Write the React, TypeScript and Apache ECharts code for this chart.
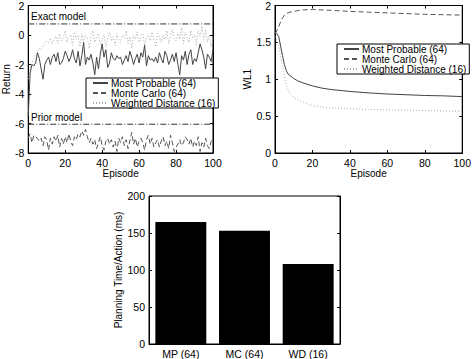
import React, { useEffect, useRef } from "react";
import * as echarts from "echarts";

// ---------- Data ----------
const seriesNames = ["Most Probable (64)", "Monte Carlo (64)", "Weighted Distance (16)"];

const returnMP = [
  -5.5, -2.6, -2.0, -2.1, -1.9, -1.2, -1.6, -2.3, -3.0, -2.0,
  -1.7, -1.5, -2.0, -1.5, -1.3, -1.8, -1.2, -2.0, -1.9, -1.6,
  -1.1, -1.4, -1.8, -1.5, -1.0, -1.6, -1.9, -1.1, -2.1, -1.4,
  -0.5, -2.0, -1.5, -1.7, -1.3, -1.9, -2.7, -1.5, -2.3, -1.3,
  -0.6, -1.5, -1.0, -2.2, -1.9, -1.2, -1.6, -1.7, -1.4, -1.6,
  -1.5, -2.0, -1.7, -1.4, -1.8, -1.1, -1.5, -2.0, -1.6, -1.3,
  -1.9, -1.2, -1.5, -0.7, -2.1, -1.4, -1.7, -1.6, -1.8, -1.5,
  -1.9, -1.2, -1.6, -1.9, -1.1, -1.4, -2.0, -1.7, -1.3, -1.8,
  -1.2, -2.0, -2.7, -1.4, -1.7, -1.1, -2.0, -1.3, -1.0, -2.0,
  -1.6, -1.8, -1.2, -0.6, -1.0, -1.5, -2.3, -1.3, -1.5, -1.8, -1.0,
];
const returnMC = [
  -7.0, -6.7, -7.3, -6.8, -6.9, -7.0, -7.2, -7.0, -7.5, -6.9,
  -7.1, -7.8, -7.0, -7.4, -6.9, -7.2, -6.8, -7.6, -7.0, -7.4,
  -6.9, -7.3, -6.7, -7.2, -7.5, -6.9, -7.1, -6.7, -6.9, -6.5,
  -6.8, -6.4, -6.9, -7.3, -7.0, -7.4, -7.1, -7.7, -7.3, -6.9,
  -7.5, -7.8, -7.2, -7.0, -7.4, -7.1, -7.6, -7.2, -7.9, -7.0,
  -7.3, -6.9, -7.5, -7.1, -7.7, -7.2, -6.6, -7.4, -7.0, -7.6,
  -7.2, -7.0, -7.3, -7.8, -7.1, -6.8, -7.4, -7.0, -7.6, -7.3,
  -7.1, -7.6, -7.2, -6.9, -7.5, -7.2, -7.7, -6.8, -7.3, -7.9,
  -7.6, -7.4, -7.1, -7.5, -7.3, -6.9, -7.1, -7.4, -7.0, -7.6,
  -7.2, -7.5, -6.9, -7.9, -7.3, -7.6, -7.0, -7.5, -7.7, -7.2, -7.0,
];
const returnWD = [
  -3.0, -2.2, -1.9, -1.6, -1.3, -1.1, -0.9, -1.0, -0.7, -0.6,
  -0.4, -0.5, -0.2, -0.6, -0.3, -0.1, -0.6, 0.1, -0.4, -0.2,
  0.3, -0.5, -0.1, 0.0, -0.7, 0.2, -0.3, 0.0, -0.8, 0.1,
  -0.4, 0.0, -0.2, -0.9, -0.1, 0.3, -0.5, -0.2, 0.1, -0.6,
  -0.3, 0.0, -0.8, -0.2, 0.2, -0.4, -0.1, -0.7, 0.1, -0.3,
  -0.5, 0.0, -0.2, 0.3, -0.6, -0.1, -0.9, 0.0, -0.3, 0.2,
  -0.5, -0.1, 0.1, -0.7, -0.2, 0.0, -0.4, 0.2, -0.3, -0.8,
  0.1, -0.2, -0.5, 0.0, -0.3, 0.3, -0.6, -0.1, 0.4, -0.2,
  -0.4, 0.1, -0.3, 0.5, -0.6, 0.2, -0.1, -0.5, 0.3, -0.2,
  0.0, -0.7, 0.3, -0.1, 0.6, -0.3, 0.4, -0.5, 0.0, -0.8, -0.2,
];
const exactModel = 0.75;
const priorModel = -6.05;

const wl1Episodes = [0, 1, 2, 3, 4, 5, 6, 7, 8, 10, 12, 15, 20, 25, 30, 40, 50, 60, 70, 80, 90, 100];
const wl1MP = [1.64, 1.62, 1.58, 1.45, 1.32, 1.2, 1.12, 1.07, 1.05, 1.01, 0.98, 0.95, 0.91, 0.88, 0.86, 0.835, 0.815, 0.8, 0.79, 0.78, 0.775, 0.765];
const wl1MC = [1.62, 1.66, 1.71, 1.78, 1.83, 1.87, 1.89, 1.9, 1.91, 1.92, 1.93, 1.94, 1.945, 1.94, 1.935, 1.92, 1.91, 1.9, 1.89, 1.88, 1.875, 1.87];
const wl1WD = [1.58, 1.52, 1.47, 1.3, 1.16, 1.04, 0.93, 0.86, 0.81, 0.76, 0.72, 0.69, 0.64, 0.625, 0.61, 0.6, 0.59, 0.585, 0.58, 0.575, 0.57, 0.565];

const planCategories = ["MP (64)", "MC (64)", "WD (16)"];
const planValues = [165, 153, 108];

// ---------- Styles ----------
const FONT = "Liberation Sans";
const lineStyles = [
  { color: "#444", type: "solid", width: 1 },
  { color: "#555", type: [5, 3], width: 1 },
  { color: "#aaa", type: [1, 2], width: 1 },
];

const pairs = (xs: number[], ys: number[]) => ys.map((y, i) => [xs[i], y]);
const episodes = returnMP.map((_, i) => i);

function valueAxis(gridIndex: number, min: number, max: number, interval: number, extra: any = {}) {
  return {
    type: "value",
    gridIndex,
    min,
    max,
    interval,
    axisLine: { show: true, onZero: false, lineStyle: { color: "#000", width: 1 } },
    axisTick: { show: true, inside: true, length: 3, lineStyle: { color: "#000" } },
    splitLine: { show: false },
    axisLabel: { color: "#000", fontFamily: FONT, fontSize: 10.5, margin: 4 },
    nameTextStyle: { color: "#000", fontFamily: FONT, fontSize: 10 },
    ...extra,
  };
}
function mirrorAxis(gridIndex: number, min: number, max: number, interval: number, position: string) {
  return valueAxis(gridIndex, min, max, interval, { position, axisLabel: { show: false } });
}

export default function App() {
  const ref = useRef<HTMLDivElement>(null);
  useEffect(() => {
    const chart = echarts.init(ref.current!, undefined, { renderer: "svg" });
    const legendBase = {
      orient: "vertical",
      backgroundColor: "#fff",
      borderColor: "#000",
      borderWidth: 1,
      borderRadius: 0,
      padding: [0, 3, 0, 6],
      itemWidth: 15,
      itemHeight: 12,
      itemGap: 0,
      itemStyle: { color: "rgba(0,0,0,0)", borderWidth: 0, opacity: 0 },
      textStyle: { fontFamily: FONT, fontSize: 10, color: "#000", padding: [0, 0, 0, -2] },
      data: seriesNames,
      selectedMode: false,
    };
    const option: any = {
      animation: false,
      backgroundColor: "#fff",
      textStyle: { fontFamily: FONT },
      grid: [
        { left: 25, top: 3, width: 188, height: 150, show: true, borderColor: "#000", borderWidth: 1 },
        { left: 275, top: 3, width: 190, height: 150, show: true, borderColor: "#000", borderWidth: 1 },
        { left: 149, top: 196, width: 191, height: 150, show: true, borderColor: "#000", borderWidth: 1 },
      ],
      xAxis: [
        valueAxis(0, 0, 100, 20, { name: "Episode", nameLocation: "middle", nameGap: 15 }),
        valueAxis(1, 0, 100, 20, { name: "Episode", nameLocation: "middle", nameGap: 15 }),
        {
          type: "category",
          gridIndex: 2,
          data: planCategories,
          axisLine: { show: true, lineStyle: { color: "#000" } },
          axisTick: { show: true, inside: true, length: 3, alignWithLabel: true, lineStyle: { color: "#000" } },
          axisLabel: { color: "#000", fontFamily: FONT, fontSize: 10.5, margin: 4 },
        },
        mirrorAxis(0, 0, 100, 20, "top"),
        mirrorAxis(1, 0, 100, 20, "top"),
      ],
      yAxis: [
        valueAxis(0, -8, 2, 2, { name: "Return", nameLocation: "middle", nameGap: 15 }),
        valueAxis(1, 0, 2, 0.5, { name: "WL1", nameLocation: "middle", nameGap: 21 }),
        valueAxis(2, 0, 200, 50, { name: "Planning Time/Action (ms)", nameLocation: "middle", nameGap: 18 }),
        mirrorAxis(0, -8, 2, 2, "right"),
        mirrorAxis(1, 0, 2, 0.5, "right"),
        mirrorAxis(2, 0, 200, 50, "right"),
      ],
      legend: [
        { ...legendBase, left: 86, top: 78 },
        { ...legendBase, left: 337, top: 44 },
      ],
      graphic: [
        { type: "text", left: 31, top: 11, style: { text: "Exact model", font: `10px "${FONT}"`, fill: "#000" } },
        { type: "text", left: 31, top: 112, style: { text: "Prior model", font: `10px "${FONT}"`, fill: "#000" } },
      ],
      series: [
        {
          name: "exact", type: "line", xAxisIndex: 0, yAxisIndex: 0, symbol: "none",
          data: [[0, exactModel], [100, exactModel]],
          lineStyle: { color: "#333", width: 1, type: [6, 2, 1, 2] }, z: 1,
        },
        {
          name: "prior", type: "line", xAxisIndex: 0, yAxisIndex: 0, symbol: "none",
          data: [[0, priorModel], [100, priorModel]],
          lineStyle: { color: "#333", width: 1, type: [6, 2, 1, 2] }, z: 1,
        },
        ...[returnMP, returnMC, returnWD].map((d, i) => ({
          name: seriesNames[i], type: "line", xAxisIndex: 0, yAxisIndex: 0, symbol: "none",
          data: pairs(episodes, d), lineStyle: lineStyles[i], itemStyle: { color: lineStyles[i].color },
          z: 3 - i,
        })),
        ...[wl1MP, wl1MC, wl1WD].map((d, i) => ({
          name: seriesNames[i], type: "line", xAxisIndex: 1, yAxisIndex: 1, symbol: "none",
          data: pairs(wl1Episodes, d), lineStyle: lineStyles[i], itemStyle: { color: lineStyles[i].color },
        })),
        {
          name: "plan", type: "bar", xAxisIndex: 2, yAxisIndex: 2, data: planValues,
          barWidth: "80%", itemStyle: { color: "#000" },
        },
      ],
    };
    chart.setOption(option);
    return () => chart.dispose();
  }, []);
  return <div ref={ref} style={{ position: "fixed", left: 0, top: 0, width: 474, height: 359 }} />;
}
